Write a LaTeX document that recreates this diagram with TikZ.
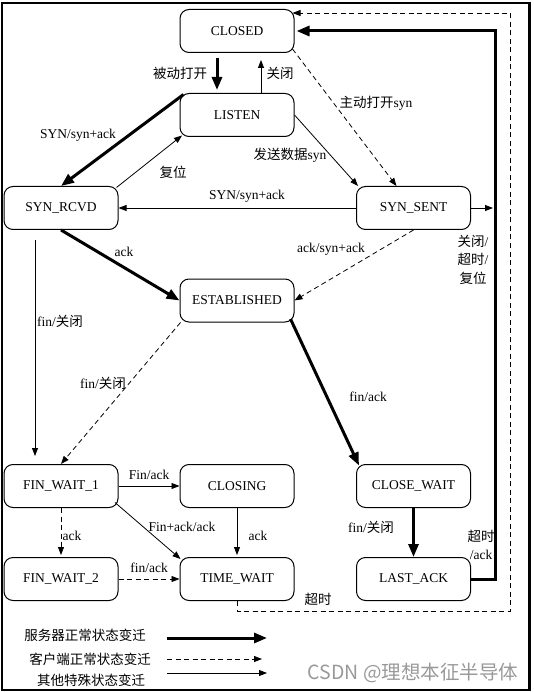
\documentclass[tikz,border=0pt]{standalone}
\usepackage{fontspec}
\setmainfont{Liberation Serif}
\newfontfamily\cjk{Noto Sans CJK SC}
\usetikzlibrary{arrows.meta}
\begin{document}
\begin{tikzpicture}[x=1pt,y=-1pt,
  every node/.style={font=\rmfamily\fontsize{13.5}{16}\selectfont, inner sep=0pt},
  state/.style={draw, line width=1pt, rounded corners=9pt, minimum width=114pt, minimum height=43pt},
  srv/.style={line width=3pt, -{Triangle[length=13pt,width=10pt]}},
  cli/.style={line width=0.8pt, dash pattern=on 5pt off 3.5pt, -{Triangle[length=8pt,width=6pt]}},
  oth/.style={line width=0.8pt, -{Triangle[length=8pt,width=6pt]}},
  multi/.style={align=center, font=\rmfamily\fontsize{13.5}{18.5}\selectfont}]
\useasboundingbox (0,0) rectangle (533,692);
\draw[line width=2.5pt] (2,3) rectangle (529.5,690);

% states
\node[state] (closed) at (237,31) {CLOSED};
\node[state] (listen) at (237,115) {LISTEN};
\node[state] (syn_rcvd) at (61,208) {SYN\_RCVD};
\node[state] (syn_sent) at (413.5,208) {SYN\_SENT};
\node[state] (established) at (237,300.5) {ESTABLISHED};
\node[state] (fin_wait_1) at (61,486) {FIN\_WAIT\_1};
\node[state] (closing) at (237,486) {CLOSING};
\node[state] (close_wait) at (413.5,486) {CLOSE\_WAIT};
\node[state] (fin_wait_2) at (61,579) {FIN\_WAIT\_2};
\node[state] (time_wait) at (237,579) {TIME\_WAIT};
\node[state] (last_ack) at (413.5,579) {LAST\_ACK};

% connectors
\draw[srv] ([xshift=-20pt,yshift=-5pt]closed.south) -- ([xshift=-20pt,yshift=3pt]listen.north);
\draw[oth] ([xshift=24pt]listen.north) -- ([xshift=24pt,yshift=-7pt]closed.south);
\draw[cli] ([xshift=-2pt,yshift=4pt]closed.south east) -- ([xshift=-17pt]syn_sent.north);
\draw[oth] (listen.east) -- ([xshift=2pt]syn_sent.north west);
\draw[srv] ([xshift=4pt,yshift=-1.5pt]listen.north west) -- (syn_rcvd.north);
\draw[oth] ([xshift=-2pt,yshift=-1.5pt]syn_rcvd.north east) -- ([xshift=2.5pt,yshift=1.5pt]listen.south west);
\draw[oth] (syn_sent.west) -- (syn_rcvd.east);
\coordinate (sse) at (493,208);
\draw[oth] (syn_sent.east) -- (sse);
\draw[srv] (syn_rcvd.south) -- (established.west);
\draw[cli] (syn_sent.south) -- (established.east);
\draw[oth] ([xshift=-26pt,yshift=-10.5pt]syn_rcvd.south) -- ([xshift=-26pt,yshift=8pt]fin_wait_1.north);
\draw[cli] ([xshift=1pt]established.south west) -- (fin_wait_1.north);
\draw[srv] ([xshift=-4pt,yshift=3.5pt]established.south east) -- ([xshift=3pt,yshift=-1.5pt]close_wait.north west);
\draw[oth] (fin_wait_1.east) -- (closing.west);
\draw[oth] ([xshift=-3.5pt,yshift=5.5pt]fin_wait_1.south east) -- ([xshift=1pt,yshift=-2pt]time_wait.north west);
\draw[cli] (fin_wait_1.south) -- ([yshift=2pt]fin_wait_2.north);
\draw[oth] (closing.south) -- ([yshift=2pt]time_wait.north);
\draw[cli] (fin_wait_2.east) -- (time_wait.west);
\draw[srv] (close_wait.south) -- (last_ack.north);
\coordinate (thickcorner) at (495.5,31);
\draw[srv] (last_ack.east) -| (thickcorner) -- ([xshift=2pt]closed.east);
\coordinate (dashcorner) at (510,611);
\draw[cli] (time_wait.south) |- (dashcorner) |- ([xshift=-2pt,yshift=-4pt]closed.north east);

% labels
\node (lpassive) at (180,73) {{\cjk 被动打开}};
\node (lclose1) at (280,73) {{\cjk 关闭}};
\node (lactive) at (376,103) {{\cjk 主动打开}syn};
\node (lsend) at (290,155) {{\cjk 发送数据}syn};
\node (lsyn1) at (78,135) {SYN/syn+ack};
\node (lreset) at (173,172) {{\cjk 复位}};
\node (lsyn2) at (247,196) {SYN/syn+ack};
\node[multi] (ltimeout1) at (473,259.5) {{\cjk 关闭}/\\{\cjk 超时}/\\{\cjk 复位}};
\node (lack1) at (124,252) {ack};
\node (lacksyn) at (331,249) {ack/syn+ack};
\node (lfin1) at (60,321) {fin/{\cjk 关闭}};
\node (lfin2) at (103,383) {fin/{\cjk 关闭}};
\node (lfinack) at (368,397) {fin/ack};
\node (lFinack) at (149,475) {Fin/ack};
\node (lFinackack) at (182,527) {Fin+ack/ack};
\node (lack2) at (72,536) {ack};
\node (lack3) at (258,536) {ack};
\node (lfinack2) at (149,568) {fin/ack};
\node (lfin3) at (371,527) {fin/{\cjk 关闭}};
\node[align=center, font=\rmfamily\fontsize{13.5}{17.3}\selectfont] (ltimeout2) at (481,545) {{\cjk 超时}\\/ack};
\node (ltimeout3) at (318,599) {{\cjk 超时}};

% legend
\node (leg1) at (85,635) {{\cjk 服务器正常状态变迁}};
\node (leg2) at (90,659) {{\cjk 客户端正常状态变迁}};
\node (leg3) at (91,680) {{\cjk 其他特殊状态变迁}};
\coordinate (a1s) at (167,638); \coordinate (a1e) at (267,638);
\coordinate (a2s) at (167,659); \coordinate (a2e) at (262,659);
\coordinate (a3s) at (167,673); \coordinate (a3e) at (267,673);
\draw[srv] (a1s) -- (a1e);
\draw[cli] (a2s) -- (a2e);
\draw[oth] (a3s) -- (a3e);

% watermark
\node[text=black!40, font=\cjk\fontsize{19.5}{21}\selectfont] (wm) at (413,673) {CSDN @理想本征半导体};
\end{tikzpicture}
\end{document}
